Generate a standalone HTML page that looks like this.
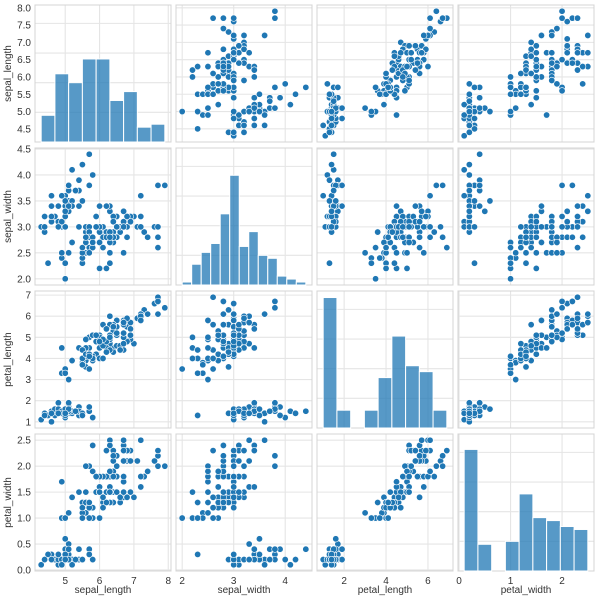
<!DOCTYPE html>
<html><head><meta charset="utf-8"><style>
body{margin:0;background:#fff;}
svg{display:block;font-family:"Liberation Sans",sans-serif;}
</style></head><body>
<svg id="chart" width="600" height="600" viewBox="0 0 600 600"></svg>
<script>
const varNames = ["sepal_length","sepal_width","petal_length","petal_width"];
const sepalLength = [5.1,4.9,4.7,4.6,5.0,5.4,4.6,5.0,4.4,4.9,5.4,4.8,4.8,4.3,5.8,5.7,5.4,5.1,5.7,5.1,5.4,5.1,4.6,5.1,4.8,5.0,5.0,5.2,5.2,4.7,4.8,5.4,5.2,5.5,4.9,5.0,5.5,4.9,4.4,5.1,5.0,4.5,4.4,5.0,5.1,4.8,5.1,4.6,5.3,5.0,
7.0,6.4,6.9,5.5,6.5,5.7,6.3,4.9,6.6,5.2,5.0,5.9,6.0,6.1,5.6,6.7,5.6,5.8,6.2,5.6,5.9,6.1,6.3,6.1,6.4,6.6,6.8,6.7,6.0,5.7,5.5,5.5,5.8,6.0,5.4,6.0,6.7,6.3,5.6,5.5,5.5,6.1,5.8,5.0,5.6,5.7,5.7,6.2,5.1,5.7,
6.3,5.8,7.1,6.3,6.5,7.6,4.9,7.3,6.7,7.2,6.5,6.4,6.8,5.7,5.8,6.4,6.5,7.7,7.7,6.0,6.9,5.6,7.7,6.3,6.7,7.2,6.2,6.1,6.4,7.2,7.4,7.9,6.4,6.3,6.1,7.7,6.3,6.4,6.0,6.9,6.7,6.9,5.8,6.8,6.7,6.7,6.3,6.5,6.2,5.9];
const sepalWidth = [3.5,3.0,3.2,3.1,3.6,3.9,3.4,3.4,2.9,3.1,3.7,3.4,3.0,3.0,4.0,4.4,3.9,3.5,3.8,3.8,3.4,3.7,3.6,3.3,3.4,3.0,3.4,3.5,3.4,3.2,3.1,3.4,4.1,4.2,3.1,3.2,3.5,3.6,3.0,3.4,3.5,2.3,3.2,3.5,3.8,3.0,3.8,3.2,3.7,3.3,
3.2,3.2,3.1,2.3,2.8,2.8,3.3,2.4,2.9,2.7,2.0,3.0,2.2,2.9,2.9,3.1,3.0,2.7,2.2,2.5,3.2,2.8,2.5,2.8,2.9,3.0,2.8,3.0,2.9,2.6,2.4,2.4,2.7,2.7,3.0,3.4,3.1,2.3,3.0,2.5,2.6,3.0,2.6,2.3,2.7,3.0,2.9,2.9,2.5,2.8,
3.3,2.7,3.0,2.9,3.0,3.0,2.5,2.9,2.5,3.6,3.2,2.7,3.0,2.5,2.8,3.2,3.0,3.8,2.6,2.2,3.2,2.8,2.8,2.7,3.3,3.2,2.8,3.0,2.8,3.0,2.8,3.8,2.8,2.8,2.6,3.0,3.4,3.1,3.0,3.1,3.1,3.1,2.7,3.2,3.3,3.0,2.5,3.0,3.4,3.0];
const petalLength = [1.4,1.4,1.3,1.5,1.4,1.7,1.4,1.5,1.4,1.5,1.5,1.6,1.4,1.1,1.2,1.5,1.3,1.4,1.7,1.5,1.7,1.5,1.0,1.7,1.9,1.6,1.6,1.5,1.4,1.6,1.6,1.5,1.5,1.4,1.5,1.2,1.3,1.4,1.3,1.5,1.3,1.3,1.3,1.6,1.9,1.4,1.6,1.4,1.5,1.4,
4.7,4.5,4.9,4.0,4.6,4.5,4.7,3.3,4.6,3.9,3.5,4.2,4.0,4.7,3.6,4.4,4.5,4.1,4.5,3.9,4.8,4.0,4.9,4.7,4.3,4.4,4.8,5.0,4.5,3.5,3.8,3.7,3.9,5.1,4.5,4.5,4.7,4.4,4.1,4.0,4.4,4.6,4.0,3.3,4.2,4.2,4.2,4.3,3.0,4.1,
6.0,5.1,5.9,5.6,5.8,6.6,4.5,6.3,5.8,6.1,5.1,5.3,5.5,5.0,5.1,5.3,5.5,6.7,6.9,5.0,5.7,4.9,6.7,4.9,5.7,6.0,4.8,4.9,5.6,5.8,6.1,6.4,5.6,5.1,5.6,6.1,5.6,5.5,4.8,5.4,5.6,5.1,5.1,5.9,5.7,5.2,5.0,5.2,5.4,5.1];
const petalWidth = [0.2,0.2,0.2,0.2,0.2,0.4,0.3,0.2,0.2,0.1,0.2,0.2,0.1,0.1,0.2,0.4,0.4,0.3,0.3,0.3,0.2,0.4,0.2,0.5,0.2,0.2,0.4,0.2,0.2,0.2,0.2,0.4,0.1,0.2,0.2,0.2,0.2,0.1,0.2,0.2,0.3,0.3,0.2,0.6,0.4,0.3,0.2,0.2,0.2,0.2,
1.4,1.5,1.5,1.3,1.5,1.3,1.6,1.0,1.3,1.4,1.0,1.5,1.0,1.4,1.3,1.4,1.5,1.0,1.5,1.1,1.8,1.3,1.5,1.2,1.3,1.4,1.4,1.7,1.5,1.0,1.1,1.0,1.2,1.6,1.5,1.6,1.5,1.3,1.3,1.3,1.2,1.4,1.2,1.0,1.3,1.2,1.3,1.3,1.1,1.3,
2.5,1.9,2.1,1.8,2.2,2.1,1.7,1.8,1.8,2.5,2.0,1.9,2.1,2.0,2.4,2.3,1.8,2.2,2.3,1.5,2.3,2.0,2.0,1.8,2.1,1.8,1.8,1.8,2.1,1.6,1.9,2.0,2.2,1.5,1.4,2.3,2.4,1.8,1.8,2.1,2.4,2.3,1.9,2.3,2.5,2.3,1.9,2.0,2.3,1.8];
const tickLabels = [[5,6,7,8],[2,3,4],[2,4,6],[0,1,2]];
const yTickLabels = [["4.5","5.0","5.5","6.0","6.5","7.0","7.5","8.0"],["2.0","2.5","3.0","3.5","4.0","4.5"],["1","2","3","4","5","6","7"],["0.0","0.5","1.0","1.5","2.0","2.5"]];
const binCounts = [9,13,9,9];

const cols=[sepalLength,sepalWidth,petalLength,petalWidth];
const svg=document.getElementById('chart');
const NS='http://www.w3.org/2000/svg';
function mk(tag,attrs,parent){const e=document.createElementNS(NS,tag);for(const k in attrs)e.setAttribute(k,attrs[k]);(parent||svg).appendChild(e);return e;}
const L0=35,T0=5,W=136,H=137,PX=141,PY=143;
const ranges=cols.map(c=>{const mn=Math.min(...c),mx=Math.max(...c),m=(mx-mn)*0.05;return [mn,mx,mn-m,mx+m];});
function xs(j,v){const r=ranges[j];return L0+j*PX+(v-r[2])/(r[3]-r[2])*W;}
function ys(i,v){const r=ranges[i];return T0+i*PY+H-(v-r[2])/(r[3]-r[2])*H;}

// numpy-style histogram
function hist(d,nb){
  const mn=Math.min(...d),mx=Math.max(...d);
  const step=(mx-mn)/nb;const edges=[];for(let i=0;i<=nb;i++)edges.push(i*step+mn);
  edges[nb]=mx;
  const norm=nb/(mx-mn);const counts=new Array(nb).fill(0);
  d.forEach(v=>{let k=Math.floor((v-mn)*norm);if(k===nb)k--;if(v<edges[k])k--;if(k!==nb-1&&v>=edges[k+1])k++;counts[k]++;});
  return {edges,counts};
}
const hists=cols.map((c,j)=>hist(c,binCounts[j]));
const gmax=Math.max(...hists.map(h=>Math.max(...h.counts)))*1.05;

for(let i=0;i<4;i++){for(let j=0;j<4;j++){
  const g=mk('g',{});
  
  
  const x0=L0+j*PX,y0=T0+i*PY;
  tickLabels[j].forEach(t=>{const x=xs(j,t);const l=mk('line',{x1:x,x2:x,y1:y0,y2:y0+H,stroke:'#e5e5e5','stroke-width':1.1},g);
    });
  if(i!==j){
    yTickLabels[i].forEach(t=>{const y=ys(i,+t);const l=mk('line',{x1:x0,x2:x0+W,y1:y,y2:y,stroke:'#e5e5e5','stroke-width':1.1},g);
      });
    mk('rect',{x:x0,y:y0,width:W,height:H,fill:'none',stroke:'#d4d4d4','stroke-width':1},g);
    for(let k=0;k<150;k++){
      const c=mk('circle',{cx:xs(j,cols[j][k]),cy:ys(i,cols[i][k]),r:3.2,fill:'#1f77b4',stroke:'#fff','stroke-width':0.6},g);
      
      
    }
  } else {
    const h=hists[j];
    const hy=c=>y0+H-c/gmax*H;
    for(let c=0;c<=gmax;c+=10){const l=mk('line',{x1:x0,x2:x0+W,y1:hy(c),y2:hy(c),stroke:'#e5e5e5','stroke-width':1.1},g);
      }
    mk('rect',{x:x0,y:y0,width:W,height:H,fill:'none',stroke:'#d4d4d4','stroke-width':1},g);
    h.counts.forEach((c,b)=>{
      if(!c)return;
      const xa=xs(j,h.edges[b]),xb=xs(j,h.edges[b+1]);
      const r=mk('rect',{x:xa,y:hy(c),width:xb-xa,height:c/gmax*H,fill:'#1f77b4','fill-opacity':0.75,stroke:'#fff','stroke-width':1},g);
      
      
    });
  }
}}
for(let j=0;j<4;j++){
  tickLabels[j].forEach(t=>{const tx=mk('text',{x:xs(j,t),y:T0+3*PY+H+13,'text-anchor':'middle','font-size':10,fill:'#333'});tx.textContent=t;
    });
  const lb=mk('text',{x:L0+j*PX+W/2,y:593,'text-anchor':'middle','font-size':10,fill:'#333'});lb.textContent=varNames[j];
  
}
for(let i=0;i<4;i++){
  yTickLabels[i].forEach(t=>{const tx=mk('text',{x:L0-4,y:ys(i,+t)+3.5,'text-anchor':'end','font-size':10,fill:'#333'});tx.textContent=t;
    });
  const cy=T0+i*PY+H/2;
  const lb=mk('text',{x:11,y:cy,'text-anchor':'middle','font-size':10,fill:'#333',transform:'rotate(-90 11 '+cy+')'});lb.textContent=varNames[i];
  
}
</script>
</body></html>
